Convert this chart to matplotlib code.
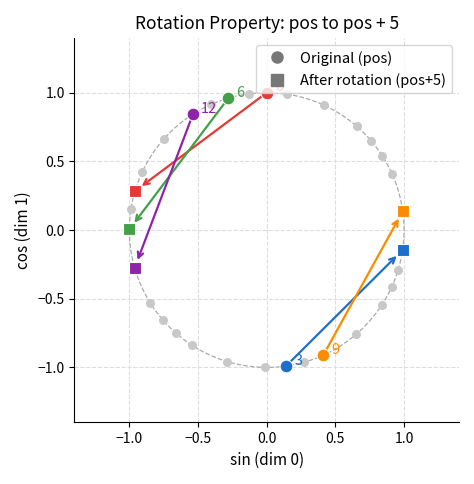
import numpy as np
import matplotlib
matplotlib.use('Agg')
import matplotlib.pyplot as plt
from matplotlib.lines import Line2D

plt.rcParams['font.family'] = ['Noto Sans CJK JP', 'DejaVu Sans']

# data
all_pos = list(range(32))
sel_pos = [0, 3, 6, 9, 12]
shift = 5
colors = ['#e53935', '#1e6fcc', '#43a047', '#fb8c00', '#8e24aa']

fig, ax = plt.subplots(figsize=(4.74, 4.84), dpi=100)

t = np.linspace(0, 2 * np.pi, 300)
ax.plot(np.sin(t), np.cos(t), '--', color='#aaaaaa', lw=0.9, zorder=1)
ax.scatter(np.sin(all_pos), np.cos(all_pos), s=30, color='#c8c8c8', zorder=2)

for p, c in zip(sel_pos, colors):
    x0, y0 = np.sin(p), np.cos(p)
    x1, y1 = np.sin(p + shift), np.cos(p + shift)
    ax.annotate('', xy=(x1, y1), xytext=(x0, y0),
                arrowprops=dict(arrowstyle='->', color=c, lw=1.6, shrinkA=4, shrinkB=6), zorder=3)
    ax.scatter([x0], [y0], s=85, marker='o', color=c, edgecolor='white', lw=0.8, zorder=4)
    ax.scatter([x1], [y1], s=85, marker='s', color=c, edgecolor='white', lw=0.8, zorder=4)
    ax.text(x0 + 0.06, y0 + 0.01, str(p), color=c, fontsize=10.5, zorder=3)

handles = [Line2D([], [], marker='o', ls='', color='#777777', markersize=8, label='Original (pos)'),
           Line2D([], [], marker='s', ls='', color='#777777', markersize=8, label='After rotation (pos+5)')]
leg = ax.legend(handles=handles, loc='upper right', fontsize=10.5, framealpha=0.8,
                handletextpad=0.6, borderpad=0.4)
leg.set_zorder(10)

ax.set_xlim(-1.4, 1.4)
ax.set_ylim(-1.4, 1.4)
ax.set_aspect('equal')
ax.set_xticks([-1.0, -0.5, 0.0, 0.5, 1.0])
ax.set_yticks([-1.0, -0.5, 0.0, 0.5, 1.0])
ax.grid(True, ls='--', color='#dddddd', lw=0.8)
ax.set_axisbelow(True)
ax.spines['top'].set_visible(False)
ax.spines['right'].set_visible(False)
ax.set_xlabel('sin (dim 0)', fontsize=11)
ax.set_ylabel('cos (dim 1)', fontsize=11)
ax.set_title('Rotation Property: pos to pos + 5', fontsize=12.5)

plt.tight_layout()
plt.savefig('out.png')
